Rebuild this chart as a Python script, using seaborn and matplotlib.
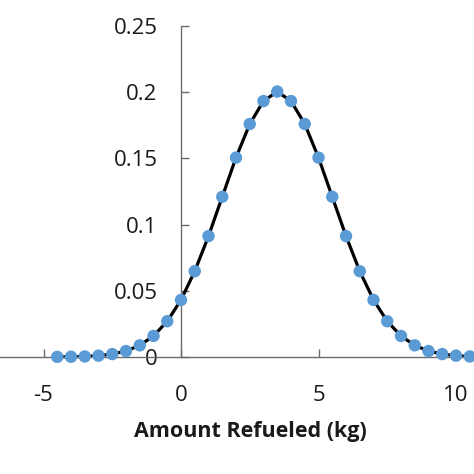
import matplotlib
matplotlib.use("Agg")
import matplotlib.pyplot as plt
from matplotlib.ticker import FixedLocator, FixedFormatter
import seaborn as sns
import pandas as pd

# Data
x_vals = [-4.5, -4.0, -3.5, -3.0, -2.5, -2.0, -1.5, -1.0, -0.5, 0.0, 0.5, 1.0, 1.5, 2.0, 2.5,
          3.0, 3.5, 4.0, 4.5, 5.0, 5.5, 6.0, 6.5, 7.0, 7.5, 8.0, 8.5, 9.0, 9.5, 10.0, 10.5]
y_vals = [0.0001, 0.0002, 0.0004, 0.001, 0.0022, 0.0045, 0.0088, 0.0159, 0.027, 0.0431, 0.0648,
          0.0913, 0.121, 0.1506, 0.176, 0.1933, 0.2005, 0.1933, 0.176, 0.1506, 0.121, 0.0913,
          0.0648, 0.0431, 0.027, 0.0159, 0.0088, 0.0045, 0.0022, 0.001, 0.0004]
x_ticks = [-5, 0, 5, 10]
x_tick_labels = ["-5", "0", "5", "10"]
y_ticks = [0, 0.05, 0.1, 0.15, 0.2, 0.25]
y_tick_labels = ["0", "0.05", "0.1", "0.15", "0.2", "0.25"]
x_label = "Amount Refueled (kg)"

df = pd.DataFrame({"x": x_vals, "y": y_vals})

sns.set_style("white")
plt.rcParams["font.family"] = ["Open Sans", "DejaVu Sans"]

fig = plt.figure(figsize=(4.74, 4.74), dpi=100)
ax = fig.add_axes([0, 0, 1, 448 / 474])

sns.lineplot(data=df, x="x", y="y", ax=ax, color="black", linewidth=2.3, zorder=2)
sns.scatterplot(data=df, x="x", y="y", ax=ax, color="#5B9BD5", s=80, edgecolor="none",
                zorder=3, linewidth=0)

ax.set_xlim(-181 / 27.5, (474 - 181) / 27.5)
ax.set_ylim(-117 / 1324, 0.25)

for s in ["top", "right"]:
    ax.spines[s].set_visible(False)
ax.spines["left"].set_position(("data", 0))
ax.spines["bottom"].set_position(("data", 0))
ax.spines["left"].set_bounds(0, 0.25)
for s in ["left", "bottom"]:
    ax.spines[s].set_color("#6b6b6b")
    ax.spines[s].set_linewidth(1.0)

ax.xaxis.set_major_locator(FixedLocator(x_ticks))
ax.xaxis.set_major_formatter(FixedFormatter(x_tick_labels))
ax.yaxis.set_major_locator(FixedLocator(y_ticks))
ax.yaxis.set_major_formatter(FixedFormatter(y_tick_labels))

ax.tick_params(axis="x", direction="in", length=6, width=1.0, color="#6b6b6b",
               labelsize=16, pad=20, labelcolor="#1a1a1a", bottom=True)
ax.tick_params(axis="y", direction="in", length=6, width=1.0, color="#6b6b6b",
               labelsize=16, pad=17, labelcolor="#1a1a1a", left=True)

ax.set_xlabel(x_label, fontsize=15.5, fontweight="bold", color="#1a1a1a")
ax.xaxis.set_label_coords(250 / 474, (474 - 432) / 448)
ax.xaxis.label.set_va("center")
ax.set_ylabel("")

fig.savefig("out.png", dpi=100, facecolor="white")
